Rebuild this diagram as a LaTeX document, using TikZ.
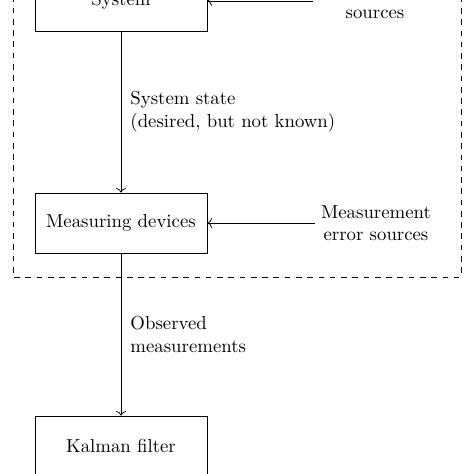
\documentclass[tikz,border=0pt]{standalone}
\usepackage{amsmath,amssymb}
\usepackage{tikz}
\usetikzlibrary{arrows.meta,calc,positioning}
\tikzset{
  block/.style={draw,thin,minimum width=3.22cm,minimum height=1.12cm},
  flow/.style={->,thin},
  flowlabel/.style={right,align=left,xshift=1.5pt},
  frame/.style={dashed,thin},
  source/.style={align=center}
}

\begin{document}
\begin{tikzpicture}[x=0.0187cm,y=-0.0187cm]
    \useasboundingbox (0,0) rectangle (474,474);
    \clip (0,0) rectangle (474,474);
    \draw[frame] (13,-60) rectangle (461,277);
    \node[block] (sys) at (121,1) {System};
    \node[block] (meas) at (121,223) {Measuring devices};
    \node[block] (kf) at (121,446) {Kalman filter};
    \node[source] (syserr) at (375,14) {sources};
    \coordinate (sysin) at (313,1);
    \node[source] (measerr) at (376,223) {Measurement\\error sources};
    \draw[flow] (sysin) -- (sys.east);
    \draw[flow] (measerr.west) -- (meas.east);
    \draw[flow] (sys) -- node[flowlabel]{System state\\(desired, but not known)} (meas);
    \draw[flow] (meas) -- node[flowlabel]{Observed\\measurements} (kf);
  \end{tikzpicture}
\end{document}
